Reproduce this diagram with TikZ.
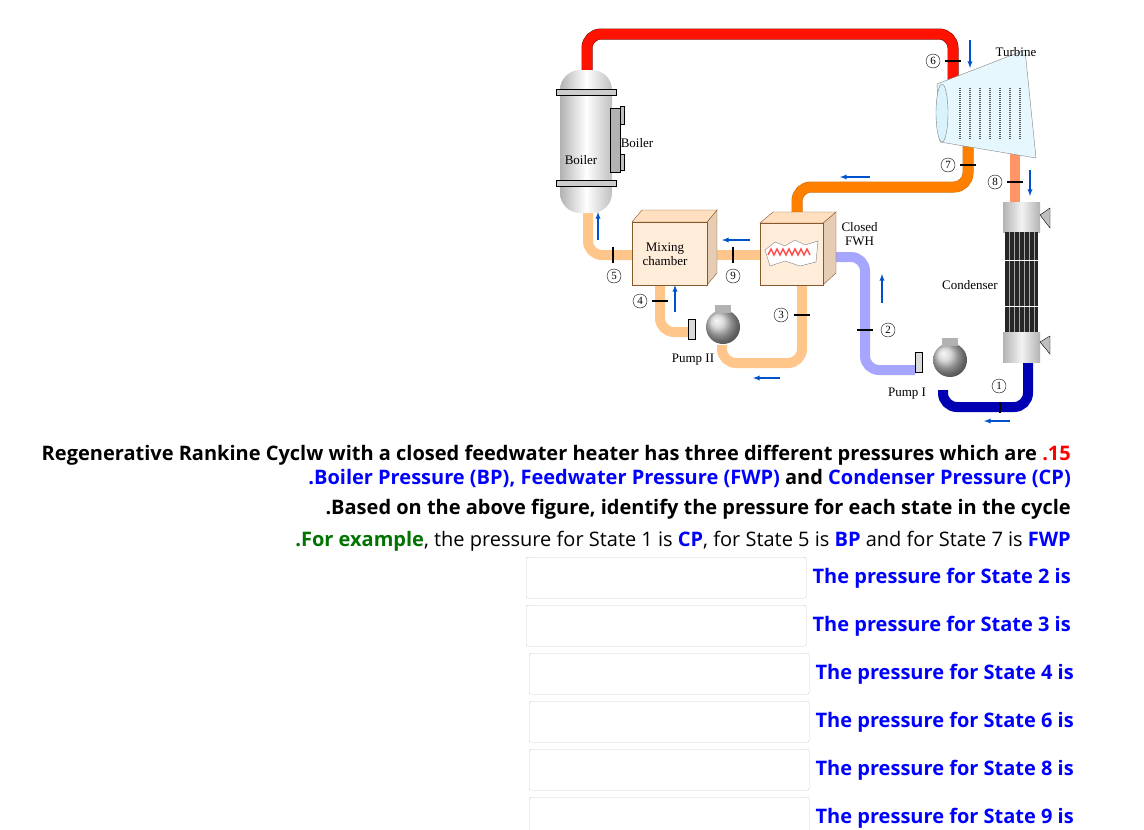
\documentclass[tikz,border=0pt]{standalone}
\usepackage{fontspec}
\setmainfont{Open Sans}
\newfontfamily\serifF{Liberation Serif}
\begin{document}
\begin{tikzpicture}[x=1pt,y=-1pt,
 pipe/.style={line width=10pt,rounded corners=14pt,line cap=butt},
 tick/.style={line width=1.2pt},
 flow/.style={-latex,blue!60!cyan!80!black,line width=1.3pt},
 st/.style={circle,draw,inner sep=0.6pt,minimum size=14pt,font=\serifF\fontsize{11}{11}\selectfont},
 lab/.style={font=\serifF\fontsize{13}{14}\selectfont,align=center},
 txt/.style={anchor=base east,inner sep=0pt,font=\fontsize{20}{22}\selectfont},
 ansbox/.style={draw=black!20,rounded corners=2pt,minimum width=280pt,minimum height=41pt,anchor=north west},
 box/.style={draw=brown!70!black,fill=orange!15}]
\useasboundingbox (0,0) rectangle (1144,830);
% pipes
\draw[pipe,red!50!black,line width=11pt] (587,75)--(587,34)--(953,34)--(953,88);
\draw[pipe,red!85!orange] (587,75)--(587,34)--(953,34)--(953,88);
\draw[pipe,orange!80!black,line width=11pt] (968,145)--(968,187)--(797,187)--(797,222);
\draw[pipe,orange] (968,145)--(968,187)--(797,187)--(797,222);
\draw[pipe,red!40!orange!60] (1015,150)--(1015,205);
\draw[pipe,blue!70!black] (1028,360)--(1028,407)--(943,407)--(943,390);
\draw[pipe,blue!35!white] (915,370)--(865,370)--(865,257)--(826,257);
\draw[pipe,orange!45] (802,285)--(802,363)--(722,363)--(722,345);
\draw[pipe,orange!45] (690,332)--(660,332)--(660,285);
\draw[pipe,orange!45] (707,255)--(760,255);
\draw[pipe,orange!45] (632,255)--(588,255)--(588,208);
% boiler
\shade[left color=gray!60,right color=gray!50,middle color=white,rounded corners=20pt] (560,70) rectangle (612,213);
\foreach \y in {92,183}{\draw[fill=gray!40] (556,\y-3) rectangle (616,\y+3);}
\draw[fill=gray!60] (610,108) rectangle (620,172);
\draw[fill=gray!50] (620,106) rectangle (624,124) (620,154) rectangle (624,170);
\node[lab] (boilerin) at (581,160) {Boiler};
\node[lab] (boilerlab) at (637,143) {Boiler};
% turbine
\draw[fill=cyan!10,draw=gray] (937,84)--(1025,50)--(1036,158)--(940,142)--cycle;
\draw[fill=cyan!15,draw=gray] (942,113) ellipse (6 and 29);
\foreach \x in {960,970,...,1020}{\draw[gray!70!black,line width=2.5pt,dash pattern=on 1pt off 1pt] (\x,88)--(\x,140);}
\node[lab] (turb) at (1016,52) {Turbine};
% condenser
\shade[left color=gray!60,right color=gray!60,middle color=gray!10] (1003,202) rectangle (1040,232);
\shade[left color=gray!60,right color=gray!60,middle color=gray!10] (1003,332) rectangle (1040,362);
\fill[gray!30!black] (1005,232) rectangle (1038,332);
\foreach \x in {1009,1014,...,1034}{\draw[gray!70,line width=1pt] (\x,232)--(\x,332);}
\draw[white,line width=1pt] (1005,260)--(1038,260) (1005,306)--(1038,306);
\draw[fill=gray!50] (1040,215) -- (1050,208) -- (1050,228) -- cycle (1040,342)--(1050,336)--(1050,354)--cycle;
\node[lab] (cond) at (970,285) {Condenser};
% boxes
\draw[box,fill=brown!40] (707,222)--(717,210)--(717,273)--(707,285)--cycle;
\draw[box,fill=orange!25] (632,222)--(642,210)--(717,210)--(707,222)--cycle;
\draw[box] (632,222) rectangle (707,285);
\node[lab] (mix) at (665,254) {Mixing\\chamber};
\draw[box,fill=brown!40] (823,223)--(836,212)--(836,273)--(823,285)--cycle;
\draw[box,fill=orange!25] (760,223)--(773,212)--(836,212)--(823,223)--cycle;
\draw[box] (760,223) rectangle (823,285);
\draw[fill=white,draw=gray] (765,250)--(775,242)--(785,246)--(795,240)--(805,245)--(818,241)--(816,262)--(800,266)--(785,261)--(770,266)--cycle;
\draw[red!70,line width=1.5pt] (768,255) foreach \i in {0,...,6}{ -- ++(3,-6) -- ++(3,6)};
\node[lab,anchor=west] (fwh) at (838,234) {Closed\\FWH};
% pumps
\foreach \n/\cx/\cy in {p2/723/327,p1/950/360}{
 \shade[ball color=gray!40] (\cx,\cy) circle (17);
 \fill[gray!60] (\cx-8,\cy-22) rectangle (\cx+8,\cy-14);
 \draw[fill=gray!30] (\cx-35,\cy-8) rectangle (\cx-28,\cy+12);
}
\node[lab] (pumpII) at (693,360) {Pump II};
\node[lab] (pumpI) at (907,394) {Pump I};
% ticks and states
\draw[tick] (945,61)--(961,61); \node[st] (s6) at (933,61) {6};
\draw[tick] (960,165)--(976,165); \node[st] (s7) at (948,165) {7};
\draw[tick] (1007,182)--(1023,182); \node[st] (s8) at (995,182) {8};
\draw[tick] (1000,402)--(1000,413); \node[st] (s1) at (999,386) {1};
\draw[tick] (857,330)--(873,330); \node[st] (s2) at (888,330) {2};
\draw[tick] (794,315)--(810,315); \node[st] (s3) at (781,315) {3};
\draw[tick] (652,301)--(668,301); \node[st] (s4) at (640,301) {4};
\draw[tick] (733,247)--(733,263); \node[st] (s9) at (733,276) {9};
\draw[tick] (613,247)--(613,263); \node[st] (s5) at (614,276) {5};
% flow arrows
\draw[flow] (970,40)--(970,68);
\draw[flow] (870,177)--(840,177);
\draw[flow] (1030,170)--(1030,196);
\draw[flow] (1010,421)--(984,421);
\draw[flow] (882,303)--(882,274);
\draw[flow] (780,378)--(753,378);
\draw[flow] (675,312)--(675,285);
\draw[flow] (750,240)--(722,240);
\draw[flow] (598,240)--(598,212);
% text
\node[txt] (l1) at (1071,460) {\bfseries Regenerative Rankine Cyclw with a closed feedwater heater has three different pressures which are \textcolor{red}{.15}};
\node[txt,text=blue] (l2) at (1071,484) {\bfseries .Boiler Pressure (BP), Feedwater Pressure (FWP) \textcolor{black}{and} Condenser Pressure (CP)};
\node[txt] (l3) at (1071,514) {\bfseries .Based on the above figure, identify the pressure for each state in the cycle};
\node[txt] (l4) at (1071,546) {\textcolor{green!45!black}{\bfseries .For example}, the pressure for State 1 is \textcolor{blue}{\bfseries CP}, for State 5 is \textcolor{blue}{\bfseries BP} and for State 7 is \textcolor{blue}{\bfseries FWP}};
\foreach \i/\s/\bx/\tx in {0/2/526/1071,1/3/526/1071,2/4/529/1074,3/6/529/1074,4/8/529/1074,5/9/529/1074}{
 \node[ansbox] (b\s) at (\bx,557+48*\i) {};
 \node[txt,text=blue] (q\s) at (\tx,583+48*\i) {\bfseries The pressure for State \s\ is};
}
\end{tikzpicture}
\end{document}
